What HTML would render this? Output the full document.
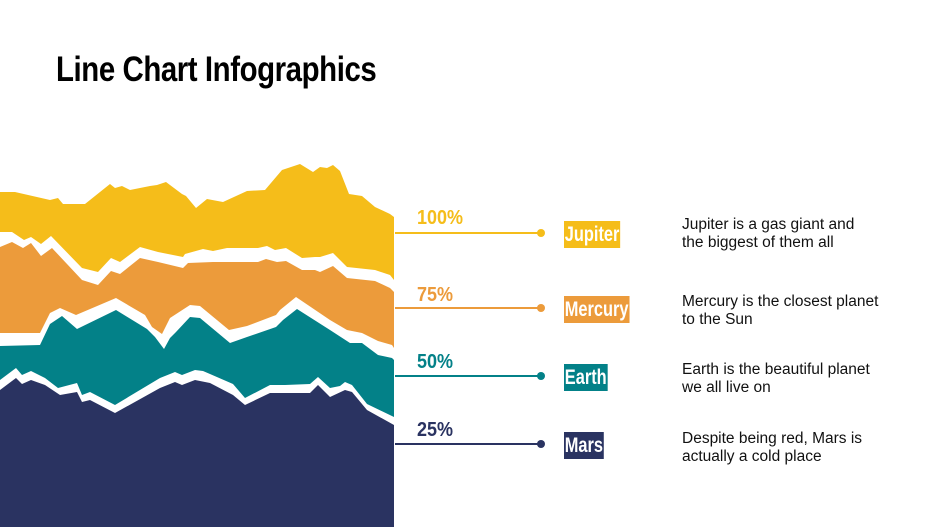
<!DOCTYPE html>
<html><head><meta charset="utf-8"><style>
body{margin:0;width:937px;height:527px;overflow:hidden;background:#fff;font-family:"Liberation Sans",sans-serif;position:relative}
.t{position:absolute;left:56px;top:50px;font-weight:bold;font-size:35px;color:#000;letter-spacing:-0.5px;transform:scaleX(0.84);transform-origin:0 0;white-space:nowrap}
.p{position:absolute;left:417px;font-weight:bold;font-size:20px;transform:scaleX(0.9);transform-origin:0 0}
.n{position:absolute;left:564px;height:27px;line-height:27px;padding:0 1px;color:#fff;font-weight:bold;font-size:21px;transform:scaleX(0.78);transform-origin:0 0;white-space:nowrap}
.d{position:absolute;left:682px;font-size:15.5px;line-height:18px;color:#111;white-space:nowrap}
</style></head><body>
<div class="t">Line Chart Infographics</div>
<svg width="937" height="527" style="position:absolute;left:0;top:0">
<polygon fill="#f5bd1a" points="0,192 15,192 50,200 58,198 63,204 85,204 110,184 115,188 122,186 130,190 150,186 157,185 166,182 182,194 186,196 196,208 207,199 223,202 247,191 265,190 282,170 300,164 313,172 320,167 327,168 333,165 340,171 349,194 362,196 375,207 390,214 394,217 394,527 0,527"/>
<polygon fill="#fff" points="0,232 12,232 24,240 31,237 41,244 51,236 82,268 98,272 111,258 120,262 140,247 158,252 183,257 185,254 203,249 213,251 227,248 258,248 267,246 275,250 286,248 302,258 315,257 320,257 333,253 347,267 375,270 390,275 394,280 394,527 0,527"/>
<polygon fill="#ec9b3b" points="0,247 12,242 23,248 31,243 41,256 52,248 82,280 98,285 111,271 120,274 140,258 158,262 183,268 188,263 213,262 258,262 266,259 277,262 286,261 302,270 315,270 320,272 333,266 347,278 375,281 390,288 394,292 394,527 0,527"/>
<polygon fill="#fff" points="0,333 40,333 50,313 60,308 76,315 116,298 145,315 152,327 162,334 170,318 190,305 200,306 229,330 247,326 276,315 280,310 296,297 330,320 347,330 362,333 378,341 392,345 394,348 394,527 0,527"/>
<polygon fill="#038188" points="0,346 40,345 50,324 62,316 77,329 116,310 147,329 155,337 164,349 170,338 176,332 190,317 200,318 230,343 247,337 276,327 283,320 297,309 330,330 350,343 362,343 378,355 392,358 394,360 394,527 0,527"/>
<polygon fill="#fff" points="0,380 16,368 22,375 31,371 45,378 58,388 77,383 82,395 90,392 115,405 160,378 175,372 182,375 195,370 203,371 210,374 233,384 245,398 270,385 285,385 310,384 318,377 330,388 340,386 345,382 352,385 367,404 394,417 394,527 0,527"/>
<polygon fill="#2a3361" points="0,390 16,378 22,384 31,380 45,385 60,395 77,392 82,402 90,400 115,413 160,388 175,382 182,385 195,380 210,383 233,395 245,405 270,393 310,393 318,385 330,397 345,390 352,392 367,410 394,425 394,527 0,527"/>
<g stroke-width="2"><line x1="395" y1="233" x2="541" y2="233" stroke="#f5bd1a"/><line x1="395" y1="308" x2="541" y2="308" stroke="#ec9b3b"/><line x1="395" y1="376" x2="541" y2="376" stroke="#038188"/><line x1="395" y1="444" x2="541" y2="444" stroke="#2a3361"/></g>
<circle cx="541" cy="233" r="4" fill="#f5bd1a"/><circle cx="541" cy="308" r="4" fill="#ec9b3b"/><circle cx="541" cy="376" r="4" fill="#038188"/><circle cx="541" cy="444" r="4" fill="#2a3361"/>
</svg>
<div class="p" style="top:207px;color:#f5bd1a">100%</div>
<div class="p" style="top:284px;color:#ec9b3b">75%</div>
<div class="p" style="top:351px;color:#038188">50%</div>
<div class="p" style="top:419px;color:#2a3361">25%</div>
<div class="n" style="top:221px;background:#f5bd1a">Jupiter</div>
<div class="n" style="top:296px;background:#ec9b3b">Mercury</div>
<div class="n" style="top:364px;background:#038188">Earth</div>
<div class="n" style="top:432px;background:#2a3361">Mars</div>
<div class="d" style="top:216px">Jupiter is a gas giant and<br>the biggest of them all</div>
<div class="d" style="top:293px">Mercury is the closest planet<br>to the Sun</div>
<div class="d" style="top:361px">Earth is the beautiful planet<br>we all live on</div>
<div class="d" style="top:430px">Despite being red, Mars is<br>actually a cold place</div>
</body></html>
